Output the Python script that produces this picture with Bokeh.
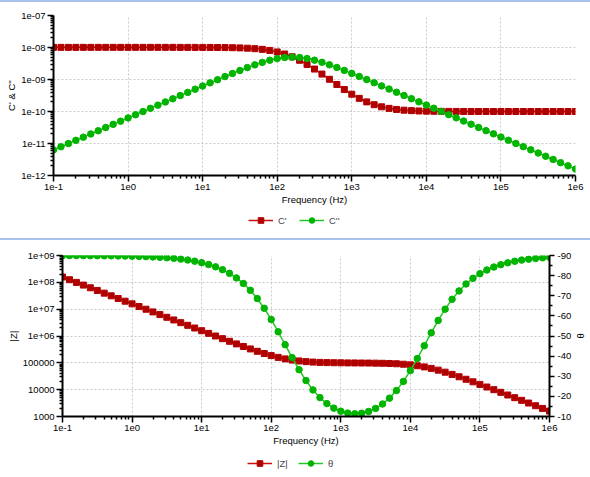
from bokeh.plotting import figure
from bokeh.models import (Range1d, FixedTicker, LinearAxis, Legend, LegendItem, Div,
                          LinearScale)
from bokeh.embed import file_html
from bokeh.resources import INLINE

# ---------------- data ----------------
freq = [0.1, 0.1259, 0.1585, 0.1995, 0.2512, 0.3162, 0.3981, 0.5012, 0.631, 0.7943,
        1, 1.259, 1.585, 1.995, 2.512, 3.162, 3.981, 5.012, 6.31, 7.943,
        10, 12.59, 15.85, 19.95, 25.12, 31.62, 39.81, 50.12, 63.1, 79.43,
        100, 125.9, 158.5, 199.5, 251.2, 316.2, 398.1, 501.2, 631, 794.3,
        1000, 1259, 1585, 1995, 2512, 3162, 3981, 5012, 6310, 7943,
        1e4, 12590, 15850, 19950, 25120, 31620, 39810, 50120, 63100, 79430,
        1e5, 125900, 158500, 199500, 251200, 316200, 398100, 501200, 631000, 794300,
        1e6]

c_real = [1.01e-8, 1.01e-8, 1.01e-8, 1.01e-8, 1.01e-8, 1.01e-8, 1.01e-8, 1.01e-8, 1.01e-8, 1.01e-8,
          1.0100e-8, 1.0099e-8, 1.0099e-8, 1.0098e-8, 1.0098e-8, 1.0096e-8, 1.0094e-8, 1.0090e-8, 1.0084e-8, 1.0075e-8,
          1.0061e-8, 1.0038e-8, 1.0002e-8, 9.945e-9, 9.857e-9, 9.720e-9, 9.511e-9, 9.198e-9, 8.742e-9, 8.106e-9,
          7.270e-9, 6.251e-9, 5.121e-9, 3.988e-9, 2.964e-9, 2.121e-9, 1.478e-9, 1.016e-9, 6.982e-10, 4.860e-10,
          3.470e-10, 2.573e-10, 1.998e-10, 1.632e-10, 1.400e-10, 1.253e-10, 1.160e-10, 1.101e-10, 1.064e-10, 1.040e-10,
          1.025e-10, 1.016e-10, 1.010e-10, 1.006e-10, 1.004e-10, 1.003e-10, 1.002e-10, 1.001e-10, 1.001e-10, 1.000e-10,
          1.0e-10, 1.0e-10, 1.0e-10, 1.0e-10, 1.0e-10, 1.0e-10, 1.0e-10, 1.0e-10, 1.0e-10, 1.0e-10, 1.0e-10]

c_imag = [6.283e-12, 7.910e-12, 9.958e-12, 1.254e-11, 1.578e-11, 1.987e-11, 2.501e-11, 3.149e-11, 3.964e-11, 4.991e-11,
          6.283e-11, 7.910e-11, 9.958e-11, 1.254e-10, 1.578e-10, 1.987e-10, 2.500e-10, 3.146e-10, 3.958e-10, 4.979e-10,
          6.259e-10, 7.861e-10, 9.860e-10, 1.234e-9, 1.540e-9, 1.911e-9, 2.354e-9, 2.865e-9, 3.426e-9, 3.996e-9,
          4.505e-9, 4.866e-9, 5.000e-9, 4.875e-9, 4.521e-9, 4.016e-9, 3.447e-9, 2.885e-9, 2.372e-9, 1.926e-9,
          1.552e-9, 1.244e-9, 9.942e-10, 7.926e-10, 6.311e-10, 5.020e-10, 3.992e-10, 3.172e-10, 2.521e-10, 2.003e-10,
          1.591e-10, 1.264e-10, 1.004e-10, 7.976e-11, 6.336e-11, 5.033e-11, 3.998e-11, 3.175e-11, 2.522e-11, 2.004e-11,
          1.592e-11, 1.264e-11, 1.004e-11, 7.976e-12, 6.336e-12, 5.033e-12, 3.998e-12, 3.175e-12, 2.522e-12, 2.004e-12,
          1.592e-12]

z_mag = [1.576e8, 1.252e8, 9.942e7, 7.898e7, 6.273e7, 4.983e7, 3.958e7, 3.144e7, 2.497e7, 1.984e7,
         1.576e7, 1.252e7, 9.943e6, 7.898e6, 6.274e6, 4.984e6, 3.959e6, 3.146e6, 2.499e6, 1.986e6,
         1.579e6, 1.256e6, 9.991e5, 7.959e5, 6.351e5, 5.080e5, 4.080e5, 3.296e5, 2.686e5, 2.217e5,
         1.861e5, 1.596e5, 1.403e5, 1.266e5, 1.172e5, 1.108e5, 1.066e5, 1.038e5, 1.020e5, 1.009e5,
         1.0006e5, 99493, 99021, 98570, 98020, 97268, 96184, 94571, 92191, 88780,
         84081, 77955, 70507, 62118, 53369, 44865, 37070, 30238, 24443, 19638,
         15714, 12540, 9991, 7951, 6323, 5026, 3995, 3174, 2522, 2003,
         1591]

theta = [-89.96, -89.96, -89.94, -89.93, -89.91, -89.89, -89.86, -89.82, -89.78, -89.72,
         -89.64, -89.55, -89.44, -89.29, -89.10, -88.87, -88.58, -88.21, -87.75, -87.17,
         -86.44, -85.52, -84.37, -82.93, -81.12, -78.87, -76.10, -72.70, -68.60, -63.76,
         -58.22, -52.11, -45.68, -39.29, -33.26, -27.85, -23.20, -19.39, -16.40, -14.16,
         -12.61, -11.69, -11.37, -11.64, -12.51, -14.01, -16.20, -19.13, -22.88, -27.44,
         -32.80, -38.79, -45.17, -51.60, -57.75, -63.34, -68.24, -72.40, -75.85, -78.67,
         -80.96, -82.80, -84.27, -85.44, -86.37, -87.12, -87.71, -88.18, -88.55, -88.85,
         -89.09]

x_ticks = [0.1, 1.0, 10.0, 100.0, 1000.0, 1e4, 1e5, 1e6]
x_tick_labels = ["1e-1", "1e0", "1e1", "1e2", "1e3", "1e4", "1e5", "1e6"]
c_ticks = [1e-12, 1e-11, 1e-10, 1e-9, 1e-8, 1e-7]
c_tick_labels = ["1e-12", "1e-11", "1e-10", "1e-09", "1e-08", "1e-07"]
z_ticks = [1e3, 1e4, 1e5, 1e6, 1e7, 1e8, 1e9]
z_tick_labels = ["1000", "10000", "100000", "1e+06", "1e+07", "1e+08", "1e+09"]
theta_ticks = [-90, -80, -70, -60, -50, -40, -30, -20, -10]
theta_tick_labels = ["-90", "-80", "-70", "-60", "-50", "-40", "-30", "-20", "-10"]

RED = "#b00000"
RED_LINE = "#c81010"
GREEN = "#00b400"
GREEN_LINE = "#22c822"
SEP = "#a9c3ea"
FONT = "Liberation Sans"
FS = "9.5px"
FS_LABEL = "9.5px"
W = 590


def minor_log(major):
    out = []
    for d in major[:-1]:
        for m in range(2, 10):
            out.append(d * m)
    return out


def style_axis(ax, ticks, labels, minor):
    ax.ticker = FixedTicker(ticks=ticks, minor_ticks=minor)
    ax.major_label_overrides = dict(zip(ticks, labels))
    ax.axis_line_width = 2
    ax.axis_line_color = "black"
    ax.major_tick_line_color = "black"
    ax.major_tick_line_width = 1.5
    ax.minor_tick_line_color = "black"
    ax.minor_tick_line_width = 1.5
    ax.major_tick_in = 0
    ax.major_tick_out = 6
    ax.minor_tick_in = 0
    ax.minor_tick_out = 3
    ax.major_label_text_font = FONT
    ax.major_label_text_font_size = FS
    ax.major_label_text_color = "black"
    ax.major_label_standoff = 2
    ax.axis_label_text_font = FONT
    ax.axis_label_text_font_size = FS_LABEL
    ax.axis_label_text_font_style = "normal"
    ax.axis_label_text_color = "black"
    ax.axis_label_standoff = 1


def style_grid(p, xt, yt):
    p.xgrid.ticker = FixedTicker(ticks=xt)
    p.ygrid.ticker = FixedTicker(ticks=yt)
    for g in (p.xgrid, p.ygrid):
        g.grid_line_color = "#c8c8c8"
        g.grid_line_dash = "2 2"
        g.grid_line_width = 1


def legend_figure(height, labels, ys, loc):
    # small strip holding only the legend; the series lie outside its ranges
    lf = figure(width=W, height=height, x_range=Range1d(-3, -2), y_range=Range1d(-3, -2),
                output_backend="svg", toolbar_location=None,
                x_axis_location=None, y_axis_location=None,
                min_border_left=0, min_border_right=0, min_border_top=0, min_border_bottom=0)
    lf.outline_line_color = None
    lf.grid.visible = False
    ra = lf.line(freq, ys[0], line_color=RED_LINE, line_width=1.5)
    rb = lf.scatter(freq, ys[0], marker="square", size=7, fill_color=RED, line_color=RED)
    ga = lf.line(freq, ys[1], line_color=GREEN_LINE, line_width=1.5)
    gb = lf.scatter(freq, ys[1], marker="circle", size=7, fill_color=GREEN, line_color=GREEN)
    lg = Legend(items=[LegendItem(label=labels[0], renderers=[ra, rb]),
                       LegendItem(label=labels[1], renderers=[ga, gb])],
                orientation="horizontal", location=loc)
    lg.label_text_font = FONT
    lg.label_text_font_size = FS_LABEL
    lg.glyph_width = 25
    lg.glyph_height = 14
    lg.label_height = 12
    lg.label_standoff = 5
    lg.spacing = 1
    lg.padding = 0
    lg.margin = 0
    lg.border_line_color = None
    lg.background_fill_alpha = 0
    lf.add_layout(lg, "center")
    return lf


topbar = Div(text="", width=W, height=2, margin=0, styles={"background-color": SEP})

# ---------------- top chart ----------------
p1 = figure(width=W, height=206, x_axis_type="log", y_axis_type="log",
            x_range=Range1d(0.1, 1e6), y_range=Range1d(1e-12, 1e-7),
            output_backend="svg", toolbar_location=None,
            min_border_left=53, min_border_right=15, min_border_top=13, min_border_bottom=33)
p1.outline_line_color = None
p1.border_fill_color = "white"

p1.line(freq, c_real, line_color=RED_LINE, line_width=1.5)
p1.scatter(freq, c_real, marker="square", size=6, fill_color=RED, line_color=RED)
p1.line(freq, c_imag, line_color=GREEN_LINE, line_width=1.5)
p1.scatter(freq, c_imag, marker="circle", size=6.5, fill_color=GREEN, line_color=GREEN)

style_axis(p1.xaxis[0], x_ticks, x_tick_labels, minor_log(x_ticks))
style_axis(p1.yaxis[0], c_ticks, c_tick_labels, minor_log(c_ticks))
p1.xaxis[0].axis_label = "Frequency (Hz)"
p1.yaxis[0].axis_label = "C' & C''"
style_grid(p1, x_ticks, c_ticks)

leg1 = legend_figure(30, ["C'", "C''"], [c_real, c_imag], (248, 11))

sep = Div(text="", width=W, height=2, margin=0, styles={"background-color": SEP})

# ---------------- bottom chart ----------------
p2 = figure(width=W, height=208, x_axis_type="log", y_axis_type="log",
            x_range=Range1d(0.1, 1e6), y_range=Range1d(1e3, 1e9),
            output_backend="svg", toolbar_location=None,
            min_border_left=62, min_border_right=41, min_border_top=15, min_border_bottom=30)
p2.outline_line_color = None
p2.border_fill_color = "white"
p2.extra_y_ranges = {"theta": Range1d(start=-10, end=-90)}
p2.extra_y_scales = {"theta": LinearScale()}

p2.line(freq, z_mag, line_color=RED_LINE, line_width=1.5)
p2.scatter(freq, z_mag, marker="square", size=6, fill_color=RED, line_color=RED)
p2.line(freq, theta, line_color=GREEN_LINE, line_width=1.5, y_range_name="theta")
p2.scatter(freq, theta, marker="circle", size=6.5, fill_color=GREEN, line_color=GREEN,
           y_range_name="theta")

style_axis(p2.xaxis[0], x_ticks, x_tick_labels, minor_log(x_ticks))
style_axis(p2.yaxis[0], z_ticks, z_tick_labels, minor_log(z_ticks))
p2.xaxis[0].axis_label = "Frequency (Hz)"
p2.yaxis[0].axis_label = "|Z|"

rax = LinearAxis(y_range_name="theta", axis_label="θ")
style_axis(rax, theta_ticks, theta_tick_labels, [-85, -75, -65, -55, -45, -35, -25, -15])
rax.major_tick_out = 5
rax.major_label_standoff = 3
p2.add_layout(rax, "right")
style_grid(p2, x_ticks, z_ticks)

leg2 = legend_figure(28, ["|Z|", "θ"], [z_mag, theta], (247, 6))

open("out.html", "w").write(file_html([topbar, p1, leg1, sep, p2, leg2], INLINE))
